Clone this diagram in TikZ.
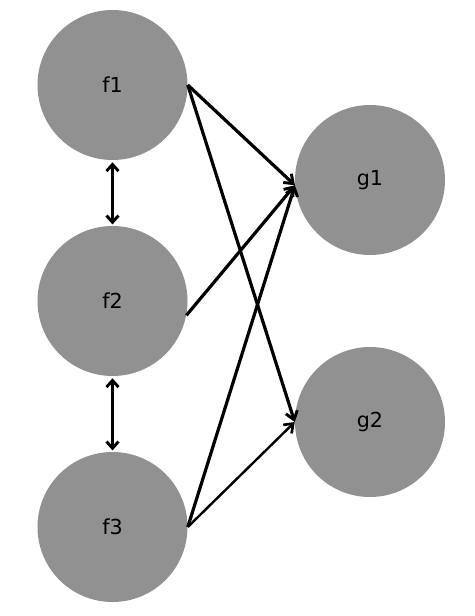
\documentclass[tikz,border=0pt]{standalone}
\usepackage{fontspec}
\setmainfont{DejaVu Sans}
\usetikzlibrary{arrows.meta}
\definecolor{nodegray}{RGB}{145,145,145}
\begin{document}
\begin{tikzpicture}[x=0.75pt,y=-0.75pt,
  unit/.style={circle,fill=nodegray,draw=none,minimum size=112.5pt,inner sep=0pt,font=\fontsize{15.5}{18}\selectfont},
  link/.style={line width=2.4pt,-{Straight Barb[length=6pt,width=9pt,line width=2.2pt]}},
  thinlink/.style={line width=1.8pt,-{Straight Barb[length=6pt,width=9pt,line width=2pt]}},
  dlink/.style={line width=2.4pt,{Straight Barb[length=5pt,width=9pt,line width=2.2pt]}-{Straight Barb[length=5pt,width=9pt,line width=2.2pt]}}]
\useasboundingbox (0,0) rectangle (474,616);
\node[unit] (f1) at (112.5,85) {f1};
\node[unit] (f2) at (112.5,301) {f2};
\node[unit] (f3) at (112.5,527) {f3};
\node[unit] (g1) at (370,180) {g1};
\node[unit] (g2) at (370,422) {g2};
\draw[dlink,shorten <=1.5pt,shorten >=1pt] (f1.south) -- (f2.north);
\draw[dlink,shorten <=1.5pt,shorten >=1pt] (f2.south) -- (f3.north);
\draw[link] (f1.east) -- (g1.-176);
\draw[link] (f1.east) -- (g2.west);
\draw[link] (f2.-11) -- (g1.-176);
\draw[link] (f3.east) -- (g1.-176);
\draw[thinlink] (f3.east) -- (g2.west);
\end{tikzpicture}
\end{document}
